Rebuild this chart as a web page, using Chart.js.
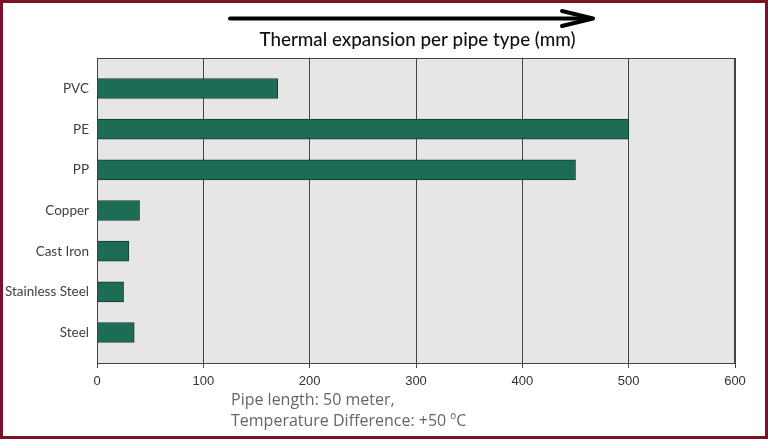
<!DOCTYPE html>
<html><head><meta charset="utf-8">
<script src="https://cdn.jsdelivr.net/npm/chart.js@4"></script>
<style>html,body{margin:0;padding:0;background:#fff;overflow:hidden}#wrap{width:768px;height:439px;position:relative}</style>
</head>
<body><div id="wrap"><canvas id="c" width="768" height="439"></canvas></div>
<script>
const categories = ['PVC', 'PE', 'PP', 'Copper', 'Cast Iron', 'Stainless Steel', 'Steel'];
const expansionMm = [170, 500, 450, 40, 30, 25, 35];
const xTickValues = [0, 100, 200, 300, 400, 500, 600];
const titleText = 'Thermal expansion per pipe type (mm)';
const noteLines = ['Pipe length: 50 meter,', 'Temperature Difference: +50 ºC'];

const decor = {
  id: 'decor',
  beforeDraw(chart) {
    const { ctx, chartArea: a } = chart;
    ctx.save();
    ctx.fillStyle = '#ffffff';
    ctx.fillRect(0, 0, chart.width, chart.height);
    ctx.fillStyle = '#e6e6e6';
    ctx.fillRect(a.left, a.top, a.right - a.left, a.bottom - a.top);
    ctx.restore();
  },
  afterDraw(chart) {
    const { ctx, chartArea: a } = chart;
    ctx.save();
    ctx.strokeStyle = '#444';
    ctx.lineWidth = 1;
    ctx.strokeRect(Math.round(a.left) + 0.5, Math.round(a.top) + 0.5, Math.round(a.right - a.left) - 1, Math.round(a.bottom - a.top));
    ctx.strokeStyle = '#000';
    ctx.lineCap = 'round';
    ctx.lineJoin = 'round';
    ctx.lineWidth = 4;
    ctx.beginPath(); ctx.moveTo(230, 18.5); ctx.lineTo(590, 18.5); ctx.stroke();
    ctx.beginPath(); ctx.moveTo(562, 11); ctx.lineTo(593, 18.5); ctx.lineTo(562, 26); ctx.stroke();
    ctx.save();
    ctx.translate(417.5, 46);
    ctx.scale(0.94, 1);
    ctx.fillStyle = '#111';
    ctx.font = '500 20px Lato, sans-serif';
    ctx.textAlign = 'center';
    ctx.textBaseline = 'alphabetic';
    ctx.fillText(titleText, 0, 0);
    ctx.restore();
    ctx.fillStyle = '#666';
    ctx.font = '16px "Open Sans", sans-serif';
    ctx.textAlign = 'left';
    ctx.textBaseline = 'middle';
    ctx.fillText(noteLines[0], 231, 400);
    ctx.fillText(noteLines[1], 231, 421);
    ctx.strokeStyle = '#7b1225';
    ctx.lineWidth = 4;
    ctx.strokeRect(1, 1, chart.width - 2, chart.height - 2);
    ctx.restore();
  }
};

new Chart(document.getElementById('c'), {
  type: 'bar',
  data: {
    datasets: [{
      data: categories.map((c, i) => ({ x: expansionMm[i], y: i })),
      backgroundColor: '#1d6c55',
      borderColor: '#17392f',
      borderWidth: 1,
      borderSkipped: false,
      barThickness: 20
    }]
  },
  options: {
    indexAxis: 'y',
    responsive: false,
    animation: false,
    devicePixelRatio: 1,
    layout: { padding: { top: 58, right: 33, left: 0, bottom: 0 } },
    plugins: { legend: { display: false }, tooltip: { enabled: false }, title: { display: false } },
    scales: {
      x: {
        type: 'linear', min: 0, max: 600,
        afterBuildTicks(s) { s.ticks = xTickValues.map(v => ({ value: v })); },
        ticks: { color: '#333', font: { family: 'Liberation Sans', size: 13 }, padding: 6, maxRotation: 0 },
        grid: { color: '#444', lineWidth: 1, tickLength: 5, drawTicks: true },
        border: { display: true, color: '#444' },
        afterFit(s) { s.height = 76; }
      },
      y: {
        type: 'linear', reverse: true, min: -0.75, max: 6.75, offset: false,
        afterBuildTicks(s) { s.ticks = categories.map((c, i) => ({ value: i })); },
        ticks: { callback: (v) => categories[v], color: '#404040', font: { family: 'Lato, sans-serif', size: 13.5 }, padding: 8 },
        grid: { display: false, drawTicks: false, offset: false },
        border: { display: true, color: '#444' },
        afterFit(s) { s.width = 97; }
      }
    }
  },
  plugins: [decor]
});
</script>
</body></html>
